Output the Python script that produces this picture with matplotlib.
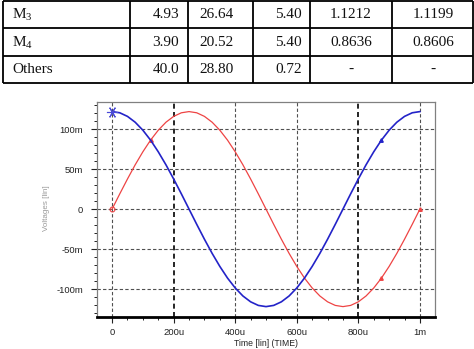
import numpy as np
import matplotlib
matplotlib.use("Agg")
import matplotlib.pyplot as plt
from matplotlib.ticker import MultipleLocator

plt.rcParams['mathtext.fontset'] = 'custom'
plt.rcParams['mathtext.rm'] = 'Liberation Serif'

# table rows shown above the waveform plot
row_names = [r'$\mathrm{M}_{3}$', r'$\mathrm{M}_{4}$', 'Others']
col_a = ['4.93', '3.90', '40.0']
col_b = ['26.64', '20.52', '28.80']
col_c = ['5.40', '5.40', '0.72']
col_d = ['1.1212', '0.8636', '-']
col_e = ['1.1199', '0.8606', '-']

# transient waveforms, time in seconds, voltages in mV (25u steps)
time_s = [k * 25e-6 for k in range(41)]
v_blue_mv = [122, 120.5, 116, 108.7, 98.7, 86.3, 71.7, 55.4, 37.7, 19.1, 0,
             -19.1, -37.7, -55.4, -71.7, -86.3, -98.7, -108.7, -116, -120.5, -122,
             -120.5, -116, -108.7, -98.7, -86.3, -71.7, -55.4, -37.7, -19.1, 0,
             19.1, 37.7, 55.4, 71.7, 86.3, 98.7, 108.7, 116, 120.5, 122]
v_red_mv = [0, 19.1, 37.7, 55.4, 71.7, 86.3, 98.7, 108.7, 116, 120.5, 122,
            120.5, 116, 108.7, 98.7, 86.3, 71.7, 55.4, 37.7, 19.1, 0,
            -19.1, -37.7, -55.4, -71.7, -86.3, -98.7, -108.7, -116, -120.5, -122,
            -120.5, -116, -108.7, -98.7, -86.3, -71.7, -55.4, -37.7, -19.1, 0]

x_ticks = [0, 200e-6, 400e-6, 600e-6, 800e-6, 1e-3]
x_ticklabels = ['0', '200u', '400u', '600u', '800u', '1m']
y_ticks = [-0.1, -0.05, 0, 0.05, 0.1]
y_ticklabels = ['-100m', '-50m', '0', '50m', '100m']

W, H = 474, 349
fig = plt.figure(figsize=(W / 100, H / 100), dpi=100)
fig.patch.set_facecolor('white')

# ---- table drawn in pixel coordinates ----
tab = fig.add_axes([0, 0, 1, 1])
tab.set_xlim(0, W)
tab.set_ylim(H, 0)
tab.axis('off')
col_x = [3, 130, 188, 253, 310, 392, 473]
row_y = [0.5, 28, 55.5, 83]
for y in row_y:
    tab.plot([col_x[0], col_x[-1]], [y, y], color='black', lw=1.3, solid_capstyle='butt')
for x in col_x:
    tab.plot([x, x], [row_y[0], row_y[-1]], color='black', lw=1.3, solid_capstyle='butt')
serif = dict(family='Liberation Serif', fontsize=11, color='#111111', va='center')
for i in range(3):
    yc = (row_y[i] + row_y[i + 1]) / 2 + 0.5
    tab.text(12, yc, row_names[i], ha='left', **serif)
    tab.text(179, yc, col_a[i], ha='right', **serif)
    tab.text(199, yc, col_b[i], ha='left', **serif)
    tab.text(302, yc, col_c[i], ha='right', **serif)
    tab.text(351, yc, col_d[i], ha='center', **serif)
    tab.text(433, yc, col_e[i], ha='center', **serif)

# ---- waveform plot ----
left, right, top, bottom = 97, 435, 102, 317
ax = fig.add_axes([left / W, 1 - bottom / H, (right - left) / W, (bottom - top) / H])
ax.set_xlim(-49e-6, 1.049e-3)
ax.set_ylim(-0.135, 0.134)

for xv in x_ticks:
    strong = xv in (200e-6, 800e-6)
    ax.axvline(xv, color='black' if strong else '#505050', lw=1.2 if strong else 0.8,
               ls=(0, (3, 2)), zorder=1)
for yv in y_ticks:
    ax.axhline(yv, color='#505050', lw=0.8, ls=(0, (3, 2)), zorder=1)

t = np.array(time_s)
vb = np.array(v_blue_mv) / 1000
vr = np.array(v_red_mv) / 1000
ax.plot(t, vr, color='#ee4444', lw=0.9, zorder=3)
ax.plot(t, vb, color='#2323c8', lw=1.2, zorder=4)
ax.plot(t[[5, 35]], vr[[5, 35]], ls='none', marker='^', ms=2.5, color='#ee4444', zorder=3)
ax.plot(t[[35]], vb[[35]], ls='none', marker='^', ms=2.5, color='#2323c8', zorder=4)
ax.plot(t[0], vb[0], marker=(6, 2, 90), ms=8, mew=0.8, color='#4a4ad8', zorder=5)
ax.plot(t[0], vr[0], marker='o', ms=3.5, mfc='none', mew=0.8, color='#ee4444', zorder=5)
ax.plot(t[-1], vr[-1], marker='^', ms=2.5, color='#ee4444', zorder=5)

ax.set_xticks(x_ticks)
ax.set_xticklabels(x_ticklabels)
ax.set_yticks(y_ticks)
ax.set_yticklabels(y_ticklabels)
ax.xaxis.set_minor_locator(MultipleLocator(50e-6))
ax.yaxis.set_minor_locator(MultipleLocator(0.01))
ax.tick_params(axis='both', which='major', direction='out', length=4, width=0.8,
               labelsize=6.8, color='#222222')
ax.tick_params(axis='both', which='minor', direction='out', length=2, width=0.7,
               color='#222222')
for lab in ax.get_xticklabels() + ax.get_yticklabels():
    lab.set_family('Liberation Sans')
    lab.set_color('#222222')
ax.tick_params(axis='y', pad=6)
ax.tick_params(axis='x', pad=4)

for side in ('top', 'right', 'left'):
    ax.spines[side].set_color('#808080')
    ax.spines[side].set_linewidth(0.9)
ax.spines['bottom'].set_color('black')
ax.spines['bottom'].set_linewidth(2)

fig.text(46 / W, 1 - 208 / H, 'Voltages [lin]', rotation=90, ha='center', va='center',
         family='Liberation Sans', fontsize=5.8, color='#9a9a9a')
fig.text(266 / W, 1 - 343 / H, 'Time [lin] (TIME)', ha='center', va='center',
         family='Liberation Sans', fontsize=6.2, color='#222222')

fig.savefig('out.png', dpi=100, facecolor='white')
